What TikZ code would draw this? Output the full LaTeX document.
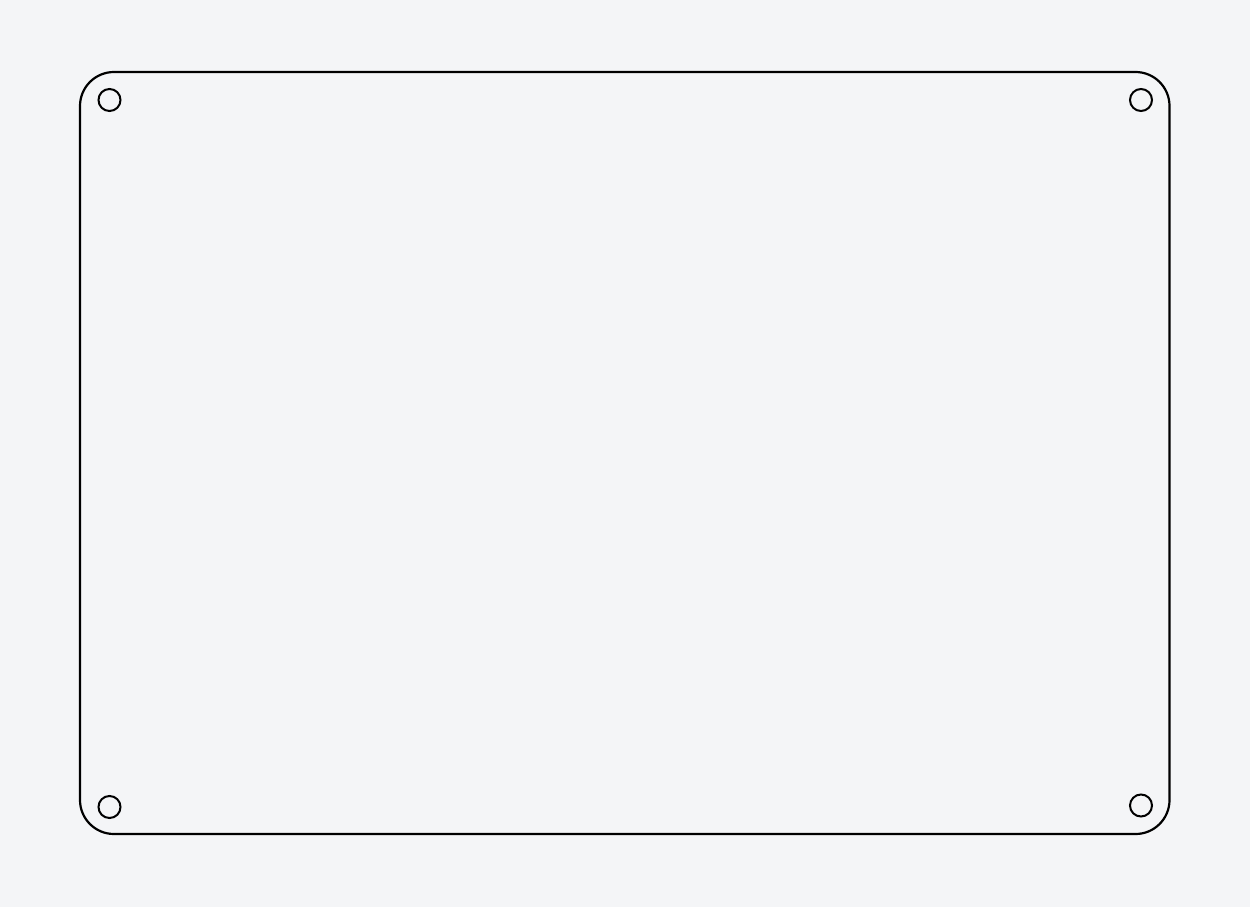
\documentclass[tikz,border=0pt]{standalone}
\definecolor{bg}{HTML}{F4F5F7}
\definecolor{ink}{HTML}{000000}
\tikzset{
  plate/.style={draw=ink, line width=2.2pt, rounded corners=34pt},
  hole/.style={draw=ink, line width=2pt},
}
\begin{document}
\begin{tikzpicture}[x=1pt,y=-1pt]
  \fill[bg] (0,0) rectangle (1250,907);
  \useasboundingbox (0,0) rectangle (1250,907);
  \draw[plate] (80,72) rectangle (1169.5,834);
  \coordinate (h1) at (109.5,100);
  \coordinate (h2) at (1141,100);
  \coordinate (h3) at (109.5,807);
  \coordinate (h4) at (1141,805.5);
  \foreach \h in {h1,h2,h3,h4} \draw[hole] (\h) circle (11);
\end{tikzpicture}
\end{document}
